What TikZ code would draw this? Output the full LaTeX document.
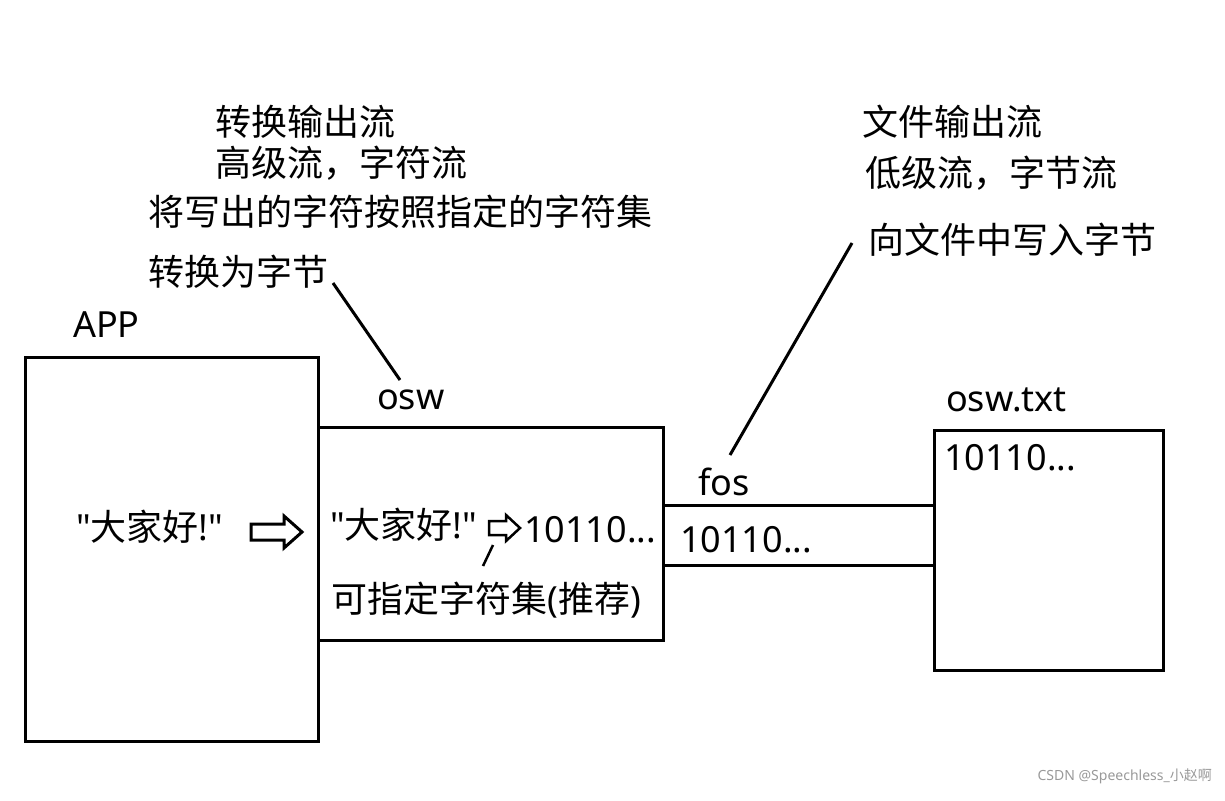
\documentclass[tikz,border=0pt]{standalone}
\usepackage{fontspec}
\setmainfont{Noto Sans CJK SC}
\newfontfamily\lat{Noto Sans}
\newcommand{\q}{{\lat "}}
\begin{document}
\begin{tikzpicture}[x=1pt,y=-1pt]
\tikzset{box/.style={draw,line width=3pt},
  txt/.style={inner sep=0pt,font=\fontsize{36}{40}\selectfont},
  ltxt/.style={txt,anchor=west},
  harrow/.style={draw,line width=3pt,line join=miter}}
\useasboundingbox (0,0) rectangle (1225,800);
% boxes
\draw [box] (25,357) rectangle (318,741);
\draw [box] (318,427) rectangle (663,640);
\draw [box] (934,430) rectangle (1163,670);
\draw [line width=3pt] (663,505) -- (934,505);
\draw [line width=3pt] (663,565) -- (934,565);
% labels
\node [ltxt] (app) at (73,325) {\lat APP};
\node [ltxt] (osw) at (377,400) {\lat osw};
\node [ltxt] (fos) at (698,482) {\lat fos};
\node [ltxt] (txt) at (946,400) {\lat osw.txt};
\node [ltxt] (bits3) at (944,458) {\lat 10110...};
\node [ltxt] (hello1) at (76,527) {\q 大家好{\lat !}\q};
% hollow arrows
\draw [harrow] (251,524) -- (284,524) -- (284,516) -- (302,532) -- (284,548) -- (284,540) -- (251,540) -- cycle;
\node [ltxt] (hello2) at (330,525) {\q 大家好{\lat !}\q};
\draw [harrow,line width=2.5pt] (489,521) -- (506,521) -- (506,515) -- (520,528) -- (506,541) -- (506,535) -- (489,535) -- cycle;
\node [ltxt] (bits1) at (524,530) {\lat 10110...};
\node [ltxt] (bits2) at (680,540) {\lat 10110...};
\node [ltxt] (cs) at (331,600) {可指定字符集{\lat (}推荐{\lat )}};
\coordinate (c1) at (483,566);
\coordinate (c2) at (493,545);
\draw [line width=2.5pt] (c1) -- (c2);
% notes
\node [ltxt] (n1) at (215,122) {转换输出流};
\node [ltxt] (n2) at (215,163) {高级流，字符流};
\node [ltxt] (n3) at (148,212) {将写出的字符按照指定的字符集};
\node [ltxt] (n4) at (148,272) {转换为字节};
\node [ltxt] (m1) at (862,122) {文件输出流};
\node [ltxt] (m2) at (865,173) {低级流，字节流};
\node [ltxt] (m3) at (868,240) {向文件中写入字节};
\coordinate (p0) at (333,283);
\coordinate (p1) at (400,380);
\coordinate (q0) at (852,243);
\coordinate (q1) at (730,455);
\draw [line width=3pt] (p0) -- (p1);
\draw [line width=3pt] (q0) -- (q1);
\node [anchor=east,inner sep=0pt,text=gray!80,font=\fontsize{14}{16}\selectfont] (wm) at (1212,776) {\lat CSDN @Speechless\_\rmfamily 小赵啊};
\end{tikzpicture}
\end{document}
